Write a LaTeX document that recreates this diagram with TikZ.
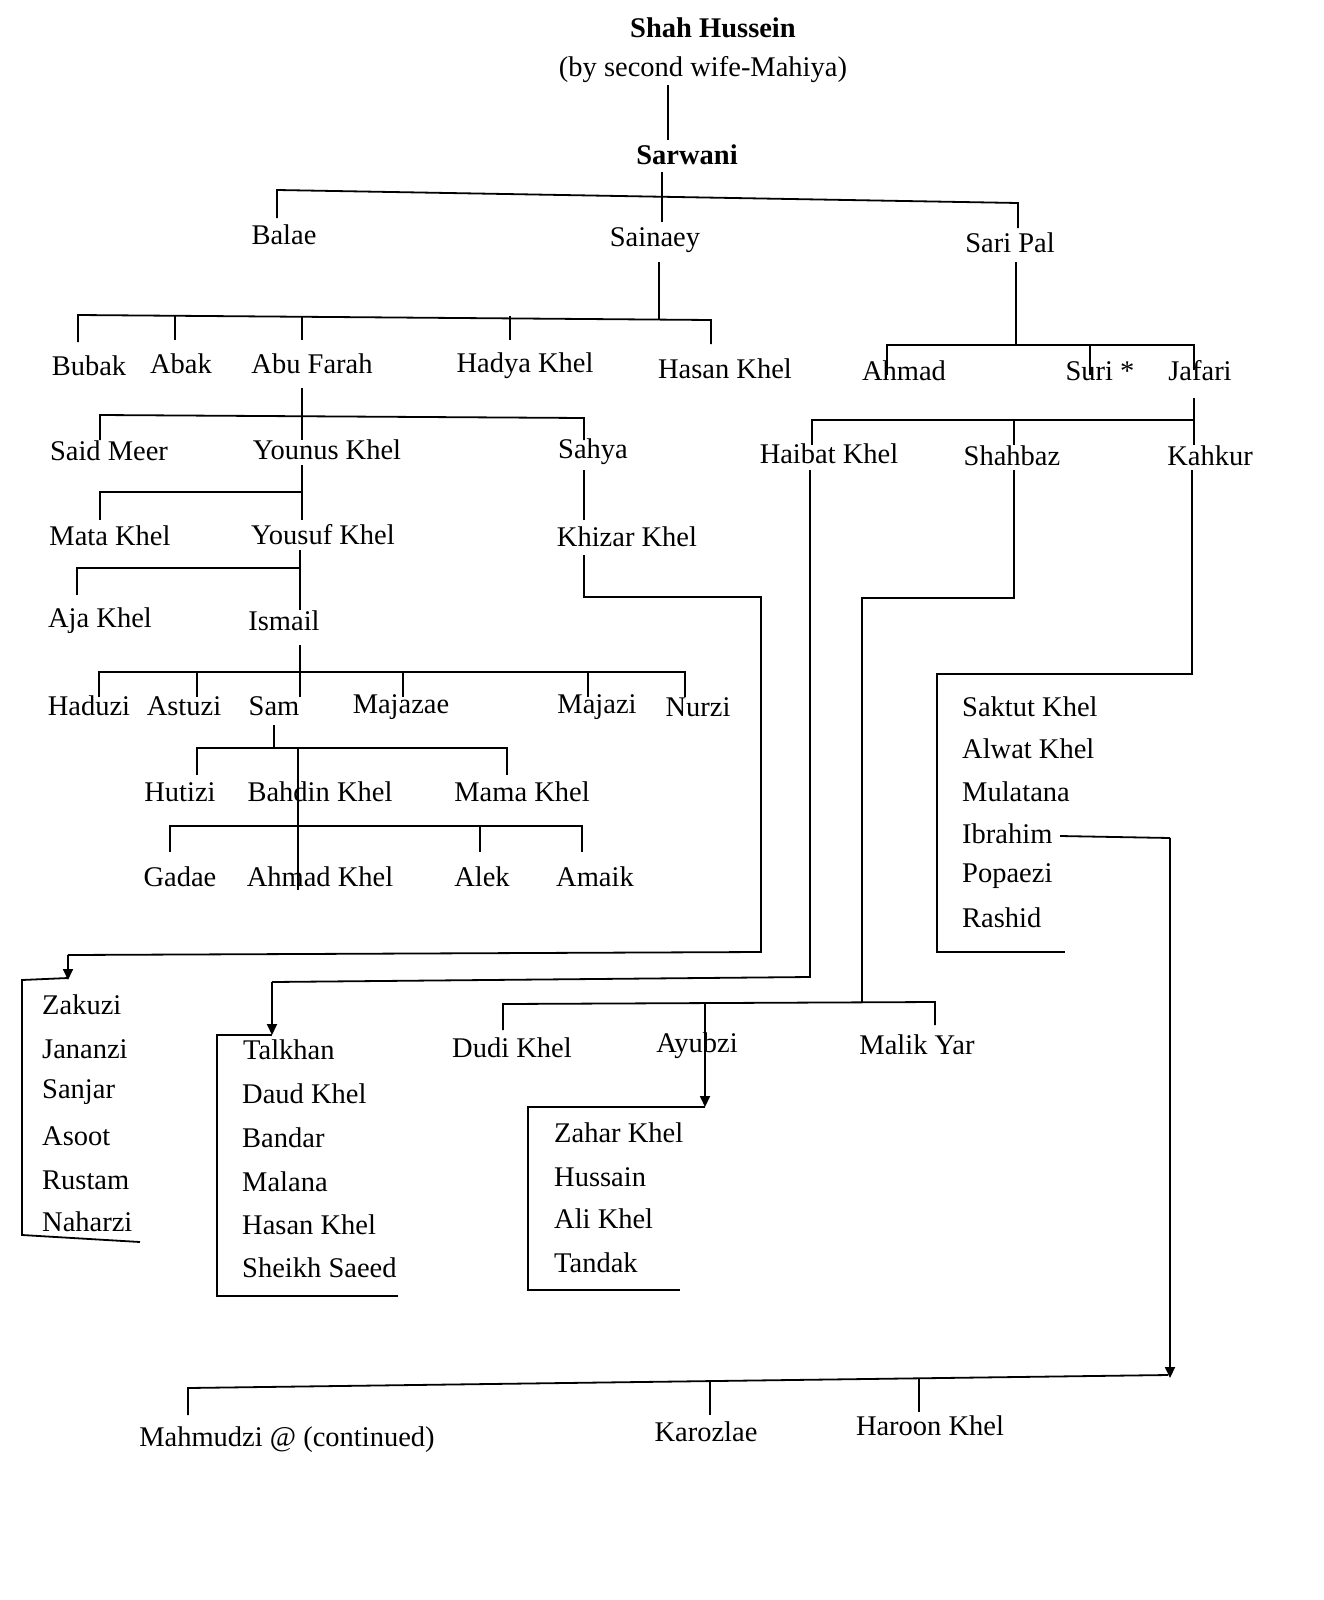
\documentclass[tikz,border=0pt]{standalone}
\usepackage{fontspec}
\setmainfont{Liberation Serif}
\usetikzlibrary{arrows.meta}
\begin{document}
\begin{tikzpicture}[x=1pt,y=-1pt,
  t/.style={inner sep=0pt,font=\fontsize{28.5}{31}\selectfont},
  tb/.style={t,font=\fontsize{28.5}{31}\selectfont\bfseries},
  tl/.style={t,anchor=west},
  ln/.style={line width=1.8pt},
  ar/.style={ln,-{Triangle[length=11pt,width=10pt]}}]
\useasboundingbox (0,0) rectangle (1323,1600);
% texts
\node[tb] (shah) at (713,28) {Shah Hussein};
\node[t] (wife) at (703,70) {(by second wife-Mahiya)};
\node[tb] (sarwani) at (687,155) {Sarwani};
\node[t] (balae) at (284,235) {Balae};
\node[t] (sainaey) at (655,240) {Sainaey};
\node[t] (saripal) at (1010,243) {Sari Pal};
\node[t] (bubak) at (89,366) {Bubak};
\node[t] (abak) at (181,364) {Abak};
\node[t] (abufarah) at (312,364) {Abu Farah};
\node[t] (hadya) at (525,366) {Hadya Khel};
\node[t] (hasan1) at (725,369) {Hasan Khel};
\node[t] (ahmad) at (904,371) {Ahmad};
\node[t] (suri) at (1100,371) {Suri *};
\node[t] (jafari) at (1200,371) {Jafari};
\node[t] (haibat) at (829,454) {Haibat Khel};
\node[t] (shahbaz) at (1012,456) {Shahbaz};
\node[t] (kahkur) at (1210,456) {Kahkur};
\node[t] (said) at (109,451) {Said Meer};
\node[t] (younus) at (327,450) {Younus Khel};
\node[t] (sahya) at (593,452) {Sahya};
\node[t] (mata) at (110,536) {Mata Khel};
\node[t] (yousuf) at (323,535) {Yousuf Khel};
\node[t] (khizar) at (627,537) {Khizar Khel};
\node[t] (aja) at (100,621) {Aja Khel};
\node[t] (ismail) at (284,621) {Ismail};
\node[t] (haduzi) at (89,706) {Haduzi};
\node[t] (astuzi) at (184,706) {Astuzi};
\node[t] (sam) at (274,706) {Sam};
\node[t] (majazae) at (401,707) {Majazae};
\node[t] (majazi) at (597,707) {Majazi};
\node[t] (nurzi) at (698,707) {Nurzi};
\node[t] (hutizi) at (180,792) {Hutizi};
\node[t] (bahdin) at (320,792) {Bahdin Khel};
\node[t] (mama) at (522,792) {Mama Khel};
\node[t] (gadae) at (180,877) {Gadae};
\node[t] (ahmadk) at (320,877) {Ahmad Khel};
\node[t] (alek) at (482,877) {Alek};
\node[t] (amaik) at (595,877) {Amaik};
\node[tl] (l1) at (42,1005) {Zakuzi};
\node[tl] (l2) at (42,1049) {Jananzi};
\node[tl] (l3) at (42,1092) {Sanjar};
\node[tl] (l4) at (42,1136) {Asoot};
\node[tl] (l5) at (42,1180) {Rustam};
\node[tl] (l6) at (42,1222) {Naharzi};
\node[tl] (m1) at (243,1050) {Talkhan};
\node[tl] (m2) at (242,1094) {Daud Khel};
\node[tl] (m3) at (242,1138) {Bandar};
\node[tl] (m4) at (242,1182) {Malana};
\node[tl] (m5) at (242,1225) {Hasan Khel};
\node[tl] (m6) at (242,1268) {Sheikh Saeed};
\node[t] (dudi) at (512,1048) {Dudi Khel};
\node[t] (ayubzi) at (697,1046) {Ayubzi};
\node[t] (malik) at (917,1045) {Malik Yar};
\node[tl] (a1) at (554,1133) {Zahar Khel};
\node[tl] (a2) at (554,1177) {Hussain};
\node[tl] (a3) at (554,1219) {Ali Khel};
\node[tl] (a4) at (554,1263) {Tandak};
\node[tl] (k1) at (962,707) {Saktut Khel};
\node[tl] (k2) at (962,749) {Alwat Khel};
\node[tl] (k3) at (962,792) {Mulatana};
\node[tl] (k4) at (962,834) {Ibrahim};
\node[tl] (k5) at (962,876) {Popaezi};
\node[tl] (k6) at (962,918) {Rashid};
\node[t] (mahmud) at (287,1440) {Mahmudzi @ (continued)};
\node[t] (karoz) at (706,1432) {Karozlae};
\node[t] (haroon) at (930,1426) {Haroon Khel};
% lines
\draw[ln] (668,85)--(668,140);
\draw[ln] (662,172)--(662,222);
\draw[ln] (277,218)--(277,190)--(1018,203)--(1018,228);
\draw[ln] (659,262)--(659,320);
\draw[ln] (78,342)--(78,315)--(711,320)--(711,344);
\foreach \x in {175,302,510}{\draw[ln] (\x,316)--(\x,340);}
\draw[ln] (1016,262)--(1016,345);
\draw[ln] (887,375)--(887,345)--(1194,345)--(1194,370);
\draw[ln] (1090,345)--(1090,375);
\draw[ln] (1194,398)--(1194,445);
\draw[ln] (812,445)--(812,420)--(1194,420);
\draw[ln] (1014,420)--(1014,445);
\draw[ln] (302,388)--(302,440);
\draw[ln] (100,440)--(100,415)--(584,418)--(584,440);
\draw[ln] (302,465)--(302,520);
\draw[ln] (100,520)--(100,492)--(302,492);
\draw[ln] (584,470)--(584,520);
\draw[ln] (300,550)--(300,610);
\draw[ln] (77,595)--(77,568)--(300,568);
\draw[ln] (300,645)--(300,672);
\draw[ln] (99,697)--(99,672)--(685,672)--(685,697);
\foreach \x in {197,300,403,588}{\draw[ln] (\x,672)--(\x,697);}
\draw[ln] (274,725)--(274,748);
\draw[ln] (197,775)--(197,748)--(507,748)--(507,775);
\draw[ln] (298,748)--(298,890);
\draw[ln] (170,852)--(170,826)--(582,826)--(582,852);
\draw[ln] (480,826)--(480,852);
% Khizar to left box
\draw[ln] (584,555)--(584,597)--(761,597)--(761,952)--(68,955);
\draw[ar] (68,955)--(68,980);
\draw[ln] (68,978)--(22,980)--(22,1235)--(140,1242);
% Haibat
\draw[ln] (810,470)--(810,977)--(272,982);
\draw[ar] (272,982)--(272,1035);
\draw[ln] (272,1035)--(217,1035)--(217,1296)--(398,1296);
% Shahbaz
\draw[ln] (1014,470)--(1014,598)--(862,598)--(862,1002);
\draw[ln] (503,1030)--(503,1004)--(935,1002)--(935,1025);
\draw[ar] (705,1003)--(705,1107);
\draw[ln] (705,1107)--(528,1107)--(528,1290)--(680,1290);
% Kahkur
\draw[ln] (1192,470)--(1192,674)--(937,674)--(937,952)--(1065,952);
% Ibrahim
\draw[ln] (1060,836)--(1170,838);
\draw[ar] (1170,838)--(1170,1378);
\draw[ln] (188,1415)--(188,1388)--(1168,1375);
\draw[ln] (710,1382)--(710,1415);
\draw[ln] (919,1378)--(919,1412);
\end{tikzpicture}
\end{document}
